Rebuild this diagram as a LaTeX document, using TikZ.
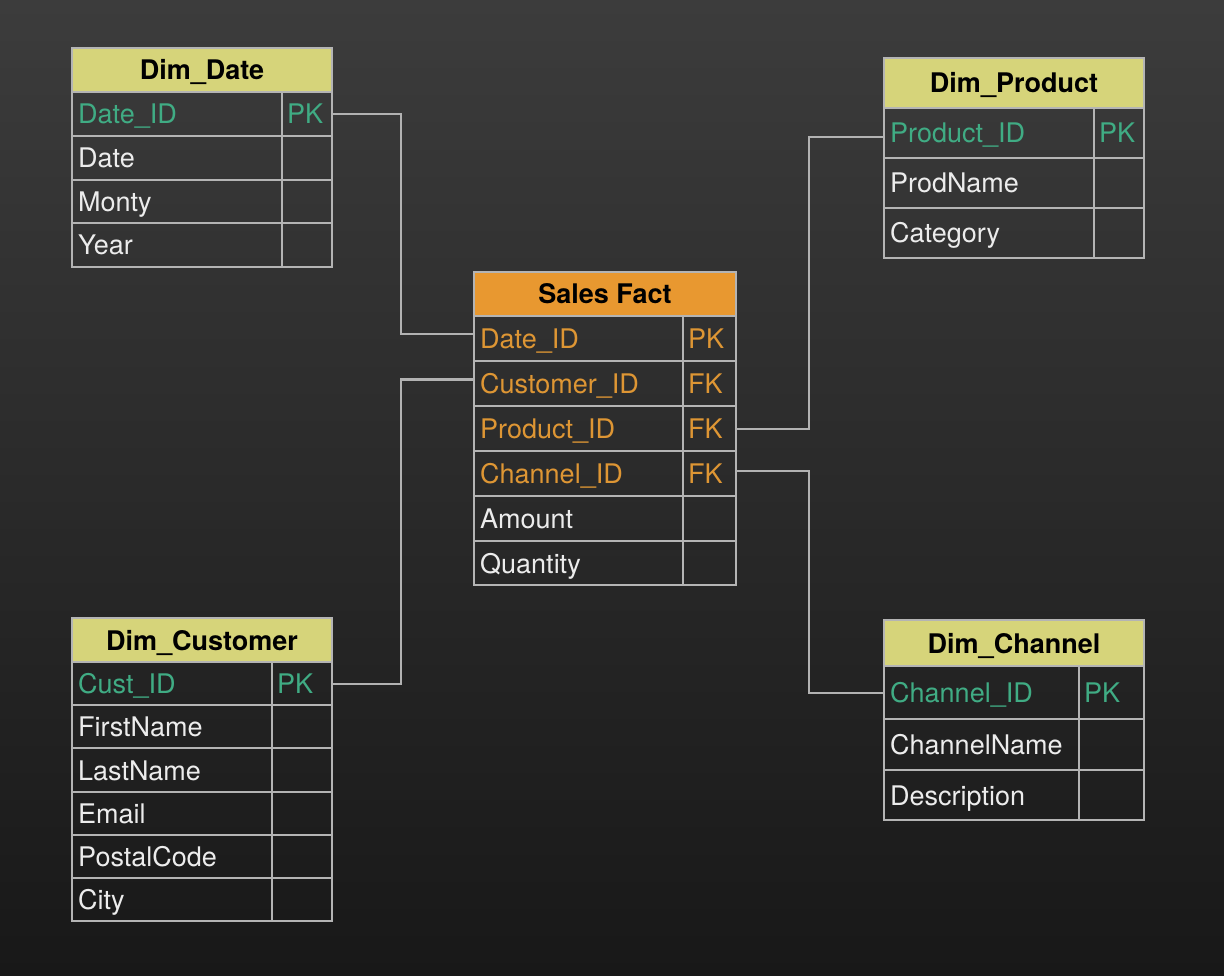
\documentclass[tikz,border=0pt]{standalone}
\usepackage{fontspec}
\setmainfont{TeX Gyre Heros}
\definecolor{bgtop}{RGB}{60,60,60}
\definecolor{bgbot}{RGB}{24,24,24}
\definecolor{hdrdim}{RGB}{214,212,122}
\definecolor{hdrfact}{RGB}{232,152,48}
\definecolor{pkgreen}{RGB}{64,172,132}
\definecolor{fkorange}{RGB}{222,150,52}
\definecolor{rowwhite}{RGB}{236,236,236}
\definecolor{gridgray}{RGB}{180,180,180}
\definecolor{conngray}{RGB}{178,178,178}
\tikzset{
  cellbox/.style={draw=gridgray, line width=1.2pt, rectangle, inner sep=0pt, outer sep=0pt},
  celltext/.style={inner sep=0pt, font=\fontsize{27}{32}\selectfont, text height=24pt, text depth=4pt},
  hdr/.style={draw=gridgray, line width=1.2pt, rectangle, inner sep=0pt, outer sep=0pt, text=black,
    font=\fontsize{27}{31}\selectfont\bfseries, text height=22pt, text depth=2pt},
  conn/.style={draw=conngray, line width=2pt}
}
% #1 name #2 x1 #3 xd #4 x2 #5 y1 #6 y2 #7 text #8 key #9 colour
\newcommand\trow[9]{%
  \node[cellbox, anchor=north west, minimum width={(#3-#2)*1pt}, minimum height={(#6-#5)*1pt}] (#1) at (#2,#5) {};
  \node[cellbox, anchor=north west, minimum width={(#4-#3)*1pt}, minimum height={(#6-#5)*1pt}] (#1k) at (#3,#5) {};
  \node[celltext, text=#9, anchor=west] (#1t) at ([xshift=6pt]#1.west) {#7};
  \node[celltext, text=#9, anchor=west] (#1kt) at ([xshift=5pt]#1k.west) {#8};
}
\newcommand\thead[7]{% #1 name #2 x1 #3 x2 #4 y1 #5 y2 #6 text #7 fill
  \node[hdr, fill=#7, anchor=north west, minimum width={(#3-#2)*1pt}, minimum height={(#5-#4)*1pt}] (#1) at (#2,#4) {#6};
}
\begin{document}
\begin{tikzpicture}[x=1pt,y=-1pt]
\shade[top color=bgtop, bottom color=bgbot] (0,0) rectangle (1224,976);
\useasboundingbox (0,0) rectangle (1224,976);

% Dim_Date
\thead{dd}{72}{332}{48}{92}{Dim\_Date}{hdrdim}
\trow{dda}{72}{282}{332}{92}{136}{Date\_ID}{PK}{pkgreen}
\trow{ddb}{72}{282}{332}{136}{180}{Date}{}{rowwhite}
\trow{ddc}{72}{282}{332}{180}{223}{Monty}{}{rowwhite}
\trow{ddd}{72}{282}{332}{223}{267}{Year}{}{rowwhite}

% Sales Fact
\thead{sf}{474}{736}{272}{316}{Sales Fact}{hdrfact}
\trow{sfa}{474}{683}{736}{316}{361}{Date\_ID}{PK}{fkorange}
\trow{sfb}{474}{683}{736}{361}{406}{Customer\_ID}{FK}{fkorange}
\trow{sfc}{474}{683}{736}{406}{451}{Product\_ID}{FK}{fkorange}
\trow{sfd}{474}{683}{736}{451}{496}{Channel\_ID}{FK}{fkorange}
\trow{sfe}{474}{683}{736}{496}{541}{Amount}{}{rowwhite}
\trow{sff}{474}{683}{736}{541}{585}{Quantity}{}{rowwhite}

% Dim_Product
\thead{dp}{884}{1144}{58}{108}{Dim\_Product}{hdrdim}
\trow{dpa}{884}{1094}{1144}{108}{158}{Product\_ID}{PK}{pkgreen}
\trow{dpb}{884}{1094}{1144}{158}{208}{ProdName}{}{rowwhite}
\trow{dpc}{884}{1094}{1144}{208}{258}{Category}{}{rowwhite}

% Dim_Customer
\thead{dc}{72}{332}{618}{662}{Dim\_Customer}{hdrdim}
\trow{dca}{72}{272}{332}{662}{705}{Cust\_ID}{PK}{pkgreen}
\trow{dcb}{72}{272}{332}{705}{748}{FirstName}{}{rowwhite}
\trow{dcc}{72}{272}{332}{748}{792}{LastName}{}{rowwhite}
\trow{dcd}{72}{272}{332}{792}{835}{Email}{}{rowwhite}
\trow{dce}{72}{272}{332}{835}{878}{PostalCode}{}{rowwhite}
\trow{dcf}{72}{272}{332}{878}{921}{City}{}{rowwhite}

% Dim_Channel
\thead{dh}{884}{1144}{620}{666}{Dim\_Channel}{hdrdim}
\trow{dha}{884}{1079}{1144}{666}{719}{Channel\_ID}{PK}{pkgreen}
\trow{dhb}{884}{1079}{1144}{719}{770}{ChannelName}{}{rowwhite}
\trow{dhc}{884}{1079}{1144}{770}{820}{Description}{}{rowwhite}

% connectors
\draw[conn] (ddak.east) -- ++(69,0) |- ([yshift=4pt]sfa.west);
\draw[conn] (dcak.east) -- ++(69,0) |- ([yshift=4pt]sfb.west);
\draw[conn] (sfck.east) -- ++(73,0) |- ([yshift=-4pt]dpa.west);
\draw[conn] ([yshift=3pt]sfdk.east) -- ++(73,0) |- (dha.west);
\end{tikzpicture}
\end{document}
